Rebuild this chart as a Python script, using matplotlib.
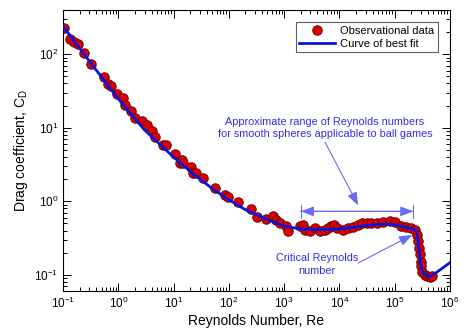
import matplotlib
matplotlib.use("Agg")
import matplotlib.pyplot as plt
from matplotlib.ticker import LogLocator, LogFormatterSciNotation, NullFormatter

plt.rcParams['font.family'] = ['Liberation Sans', 'DejaVu Sans']
plt.rcParams['mathtext.default'] = 'regular'

# observational data
re_obs = [0.105, 0.134, 0.16, 0.185, 0.24, 0.32, 0.545, 0.66, 0.74, 0.95,
          1.2, 1.34, 1.7, 2.0, 2.7, 3.3, 4.0, 4.6, 6.5, 7.2,
          10.6, 13, 14, 15, 21, 22.7, 26, 34, 56, 85,
          98, 148, 257, 330, 480, 620, 710, 830, 1100, 1170,
          1950, 2200, 2380, 2900, 3600, 4400, 5500, 6200, 7000, 8000,
          9000, 11800, 14500, 17600, 21500, 26000, 32000, 37000, 48000, 63000,
          82000, 100000, 130000, 160000, 200000, 230000, 250000, 263000, 275000, 285000,
          295000, 300000, 310000, 350000, 390000, 440000, 470000]
cd_obs = [225, 162, 148, 137, 105, 74, 48.7, 39, 37, 28.9,
          25.8, 20.5, 17, 13.5, 12.4, 11, 8.9, 7.5, 5.9, 5.75,
          4.4, 3.3, 3.7, 3.3, 2.9, 2.43, 2.4, 2.05, 1.51, 1.2,
          1.14, 0.97, 0.78, 0.62, 0.57, 0.63, 0.56, 0.51, 0.46, 0.39,
          0.46, 0.48, 0.41, 0.39, 0.43, 0.39, 0.41, 0.43, 0.46, 0.48,
          0.43, 0.41, 0.43, 0.45, 0.48, 0.50, 0.51, 0.50, 0.50, 0.53,
          0.54, 0.53, 0.46, 0.45, 0.43, 0.41, 0.35, 0.29, 0.23, 0.19,
          0.15, 0.13, 0.11, 0.10, 0.095, 0.093, 0.097]

# curve of best fit
re_fit = [0.1, 0.3, 1, 3, 10, 20, 50, 100, 200, 500,
          1000, 2000, 4000, 1e4, 2e4, 4e4, 7e4, 1e5, 1.5e5, 2.2e5,
          2.5e5, 2.65e5, 2.8e5, 3.0e5, 3.3e5, 3.8e5, 4.3e5, 5e5, 1e6]
cd_fit = [240, 80.3, 24.7, 9.3, 4.0, 2.56, 1.49, 1.05, 0.77, 0.565,
          0.46, 0.42, 0.41, 0.42, 0.45, 0.48, 0.49, 0.48, 0.45, 0.42,
          0.39, 0.30, 0.20, 0.13, 0.105, 0.097, 0.095, 0.10, 0.146]

fig = plt.figure(figsize=(4.74, 3.32), dpi=100)
ax = fig.add_axes([0.133, 0.123, 0.816, 0.847])

ax.plot(re_obs, cd_obs, 'o', ms=6.8, mfc='#e00000', mec='#700000', mew=0.7,
        label='Observational data', zorder=2)
ax.plot(re_fit, cd_fit, '-', color='#0a14dc', lw=2.0, label='Curve of best fit', zorder=3)

ax.set_xscale('log')
ax.set_yscale('log')
ax.set_xlim(0.1, 1e6)
ax.set_ylim(0.06, 400)

for axis in (ax.xaxis, ax.yaxis):
    axis.set_major_locator(LogLocator(base=10, numticks=20))
    axis.set_minor_locator(LogLocator(base=10, subs=range(2, 10), numticks=20))
    axis.set_major_formatter(LogFormatterSciNotation())
    axis.set_minor_formatter(NullFormatter())
ax.tick_params(which='both', direction='in', top=True, right=True, labelsize=8.5, width=0.7)
ax.tick_params(which='major', length=6)
ax.tick_params(which='minor', length=3)
for s in ax.spines.values():
    s.set_linewidth(0.8)

ax.set_xlabel('Reynolds Number, Re', fontsize=10, labelpad=2)
ax.set_ylabel('Drag coefficient, C$_D$', fontsize=10, labelpad=3)

leg = ax.legend(loc='upper right', fontsize=8, fancybox=False, edgecolor='#333333',
                numpoints=1, handlelength=3.2, borderpad=0.3, labelspacing=0.3,
                borderaxespad=1.1, handletextpad=0.5)
leg.get_frame().set_linewidth(0.8)

txt_col = '#3030e0'
arr_col = '#6a6af5'
ax.text(5.5e3, 10, 'Approximate range of Reynolds numbers\nfor smooth spheres applicable to ball games',
        ha='center', va='center', color=txt_col, fontsize=7.8, linespacing=1.3)
ax.annotate('', xy=(2.2e4, 0.88), xytext=(5.5e3, 6.4),
            arrowprops=dict(arrowstyle='-|>,head_length=0.8,head_width=0.3', color=arr_col,
                            lw=0.8, shrinkA=0, shrinkB=0))
ax.annotate('', xy=(2.2e5, 0.73), xytext=(2e3, 0.73),
            arrowprops=dict(arrowstyle='<|-|>,head_length=0.8,head_width=0.3', color=arr_col,
                            lw=0.8, shrinkA=0, shrinkB=0))
ax.annotate('', xy=(2.2e5, 0.73), xytext=(2e3, 0.73),
            arrowprops=dict(arrowstyle='|-|,widthA=0.45,widthB=0.45', color=arr_col,
                            lw=0.8, shrinkA=0, shrinkB=0))
ax.text(3.9e3, 0.139, 'Critical Reynolds\nnumber', ha='center', va='center',
        color=txt_col, fontsize=7.8, linespacing=1.3)
ax.annotate('', xy=(2.1e5, 0.35), xytext=(2.2e4, 0.145),
            arrowprops=dict(arrowstyle='-|>,head_length=0.8,head_width=0.3', color=arr_col,
                            lw=0.8, shrinkA=0, shrinkB=0))

fig.savefig('out.png', dpi=100)
